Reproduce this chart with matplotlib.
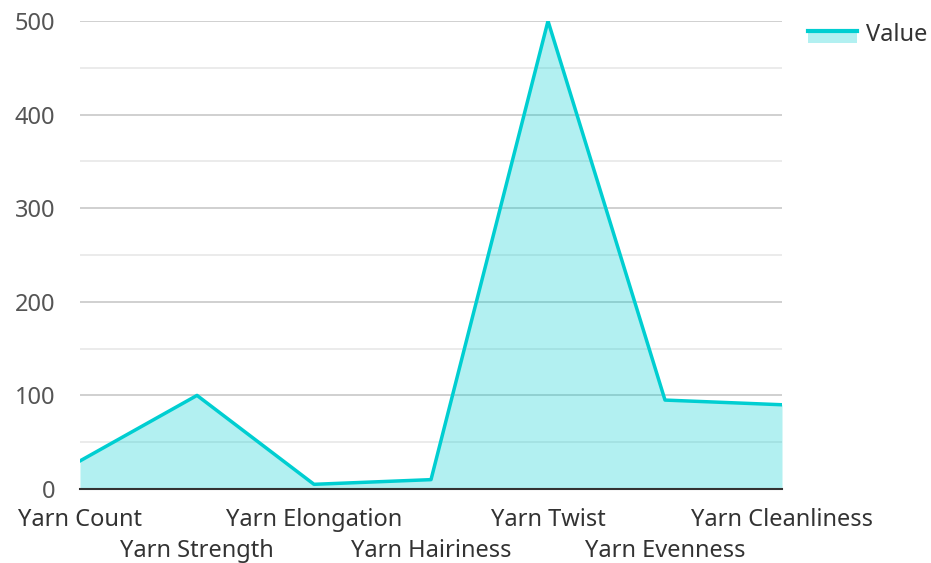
import matplotlib
matplotlib.use("Agg")
import matplotlib.pyplot as plt
from matplotlib.patches import Rectangle
from matplotlib.lines import Line2D
from matplotlib.ticker import MultipleLocator
from matplotlib.legend_handler import HandlerBase

plt.rcParams['font.family'] = ['Noto Sans', 'DejaVu Sans']

categories = ['Yarn Count', 'Yarn Strength', 'Yarn Elongation', 'Yarn Hairiness',
              'Yarn Twist', 'Yarn Evenness', 'Yarn Cleanliness']
values = [30, 100, 5, 10, 500, 95, 90]

line_col = '#00CED1'


# legend key: filled box with the line along its top edge
class AreaHandler(HandlerBase):
    def create_artists(self, legend, orig, xd, yd, w, h, fontsize, trans):
        top = yd + h * 0.55
        r = Rectangle((xd, top - 8.5), w, 8.5, facecolor=line_col, alpha=0.3,
                      edgecolor='none', transform=trans)
        l = Line2D([xd, xd + w], [top, top], color=line_col, linewidth=3, transform=trans)
        return [r, l]


fig = plt.figure(figsize=(9.31, 5.63), dpi=100)
ax = fig.add_axes([80/931, 1-489/563, (782-80)/931, (489-21)/563])

x = list(range(len(categories)))
ax.fill_between(x, values, 0, color=line_col, alpha=0.3, linewidth=0)
ax.plot(x, values, color=line_col, linewidth=2.5)

ax.set_xlim(0, len(categories)-1)
ax.set_ylim(0, 500)
ax.yaxis.set_major_locator(MultipleLocator(100))
ax.yaxis.set_minor_locator(MultipleLocator(50))
ax.grid(axis='y', which='major', color='#c8c8c8', linewidth=1.2)
ax.grid(axis='y', which='minor', color='#e8e8e8', linewidth=1.2)
ax.set_axisbelow(True)
for s in ['top', 'right', 'left']:
    ax.spines[s].set_visible(False)
ax.spines['bottom'].set_color('#333333')
ax.spines['bottom'].set_linewidth(1.5)

ax.set_xticks(x)
ax.set_xticklabels(categories)
for i, lab in enumerate(ax.get_xticklabels()):
    lab.set_y(0 if i % 2 == 0 else -0.066)
ax.tick_params(axis='x', length=0, labelsize=17, labelcolor='#333333', pad=14)
ax.tick_params(axis='y', which='both', length=0, labelsize=17, labelcolor='#555555', pad=18)

fig.legend([object()], ['Value'], loc='upper left', bbox_to_anchor=(808/931, 1-23/563),
           frameon=False, fontsize=17, handlelength=2.07, handleheight=0.75,
           handletextpad=0.38, labelcolor='#333333', borderpad=0, borderaxespad=0,
           handler_map={object: AreaHandler()})

fig.savefig('out.png', dpi=100)
